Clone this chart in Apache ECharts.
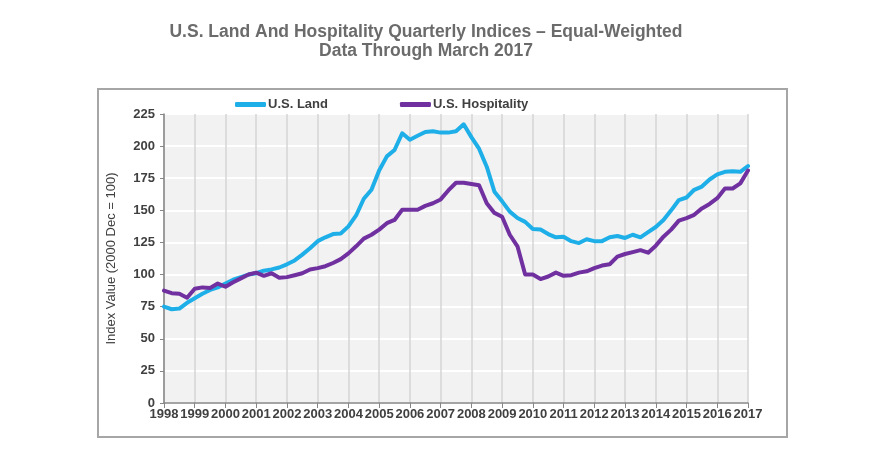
<!DOCTYPE html>
<html>
<head>
<meta charset="utf-8">
<script src="https://cdn.jsdelivr.net/npm/echarts@6/dist/echarts.min.js"></script>
<style>
  html, body { margin: 0; padding: 0; background: #fff; }
  #chart { width: 872px; height: 457px; }
</style>
</head>
<body>
<div id="chart"></div>
<script>
// quarterly, 1998 Q1 .. 2017 Q1
const years = [1998, 1999, 2000, 2001, 2002, 2003, 2004, 2005, 2006, 2007,
  2008, 2009, 2010, 2011, 2012, 2013, 2014, 2015, 2016, 2017];

const landValues = [
  75, 73, 73.5, 78,
  81.5, 85, 88, 90,
  93, 96, 98, 100,
  101, 103, 104, 105.5,
  108, 111, 115.5, 120.5,
  126, 129, 131.5, 132,
  137.5, 146, 159, 166,
  181, 192, 197, 210,
  205, 208, 211, 211.5,
  210.5, 210.5, 211.5, 217,
  207, 198, 184, 164.5,
  157, 149, 144, 141,
  135.5, 135, 131.5, 129,
  129.5, 126, 124.5, 127.5,
  126, 126, 129, 130,
  128.5, 131, 129, 133,
  137, 142.5, 150, 158,
  160, 166, 168.5, 174,
  178, 180, 180.5, 180,
  184.5
];

const hospitalityValues = [
  87.5, 85.5, 85, 82,
  89, 90, 89.5, 93,
  90.5, 94, 97, 100,
  101.5, 99, 101, 97.5,
  98, 99.5, 101, 104,
  105, 106.5, 109, 112,
  116.5, 122, 128, 131,
  135, 140, 142.5, 150.5,
  150.5, 150.5, 153.5, 155.5,
  158.5, 165.5, 171.5, 171.5,
  170.5, 169.5, 155.5, 148,
  145, 131, 122, 100,
  100, 96.5, 98.5, 101.5,
  99, 99.5, 101.5, 102.5,
  105, 107, 108, 114,
  116, 117.5, 119, 117,
  122.5, 129.5, 135, 142,
  144, 146.5, 151.5, 155,
  159.5, 167, 167, 171,
  181
];

// category per quarter, label shown on Q1 only
const quarters = [];
years.forEach(y => {
  for (let q = 1; q <= 4; q++) {
    if (y === 2017 && q > 1) break;
    quarters.push(y + ' Q' + q);
  }
});

const font = 'Arial, "Liberation Sans", sans-serif';
const chart = echarts.init(document.getElementById('chart'));

chart.setOption({
  backgroundColor: '#fff',
  animation: false,
  title: {
    text: 'U.S. Land And Hospitality Quarterly Indices \u2013 Equal-Weighted\nData Through March 2017',
    left: 421,
    textAlign: 'center',
    top: 17,
    textStyle: { fontFamily: font, fontSize: 17.5, fontWeight: 'bold', color: '#6b6b6b', lineHeight: 19.5 },
  },
  graphic: [
    {
      type: 'rect',
      shape: { x: 98, y: 89, width: 689, height: 348 },
      style: { fill: 'none', stroke: '#a6a6a6', lineWidth: 2 },
      z: -1,
    },
  ],
  legend: {
    data: ['U.S. Land', 'U.S. Hospitality'],
    left: 230,
    top: 93,
    icon: 'roundRect',
    itemWidth: 31,
    itemHeight: 5,
    itemGap: 72,
    textStyle: { fontFamily: font, fontSize: 13, fontWeight: 'bold', color: '#404040', padding: [0, 0, 0, -3] },
  },
  grid: {
    left: 164, right: 124, top: 114, bottom: 54,
    show: true, backgroundColor: '#f2f2f2', borderWidth: 0,
  },
  xAxis: {
    type: 'category',
    data: quarters,
    boundaryGap: false,
    axisLine: { lineStyle: { color: '#868686', width: 1.5 } },
    axisTick: { interval: 3, length: 5, lineStyle: { color: '#868686' } },
    axisLabel: {
      interval: 3,
      hideOverlap: false,
      margin: 5,
      fontFamily: font, fontSize: 13, fontWeight: 'bold', color: '#404040',
      formatter: v => v.slice(0, 4),
    },
    splitLine: { show: true, interval: 3, lineStyle: { color: '#d4d4d4', width: 1.5 } },
  },
  yAxis: {
    type: 'value',
    min: 0,
    max: 225,
    interval: 25,
    name: 'Index Value (2000 Dec = 100)',
    nameLocation: 'middle',
    nameGap: 46,
    nameTextStyle: { fontFamily: font, fontSize: 13, color: '#404040' },
    axisLine: { show: true, lineStyle: { color: '#868686', width: 1.5 } },
    axisTick: { show: true, length: 4, lineStyle: { color: '#868686' } },
    axisLabel: { margin: 9, fontFamily: font, fontSize: 13, fontWeight: 'bold', color: '#404040' },
    splitLine: { lineStyle: { color: '#ffffff', width: 2 } },
  },
  series: [
    {
      name: 'U.S. Land',
      type: 'line',
      data: landValues,
      symbol: 'none',
      color: '#1eaee8',
      lineStyle: { color: '#1eaee8', width: 4, join: 'round', cap: 'round' },
    },
    {
      name: 'U.S. Hospitality',
      type: 'line',
      data: hospitalityValues,
      symbol: 'none',
      color: '#7030a0',
      lineStyle: { color: '#7030a0', width: 4, join: 'round', cap: 'round' },
    },
  ],
});
</script>
</body>
</html>
